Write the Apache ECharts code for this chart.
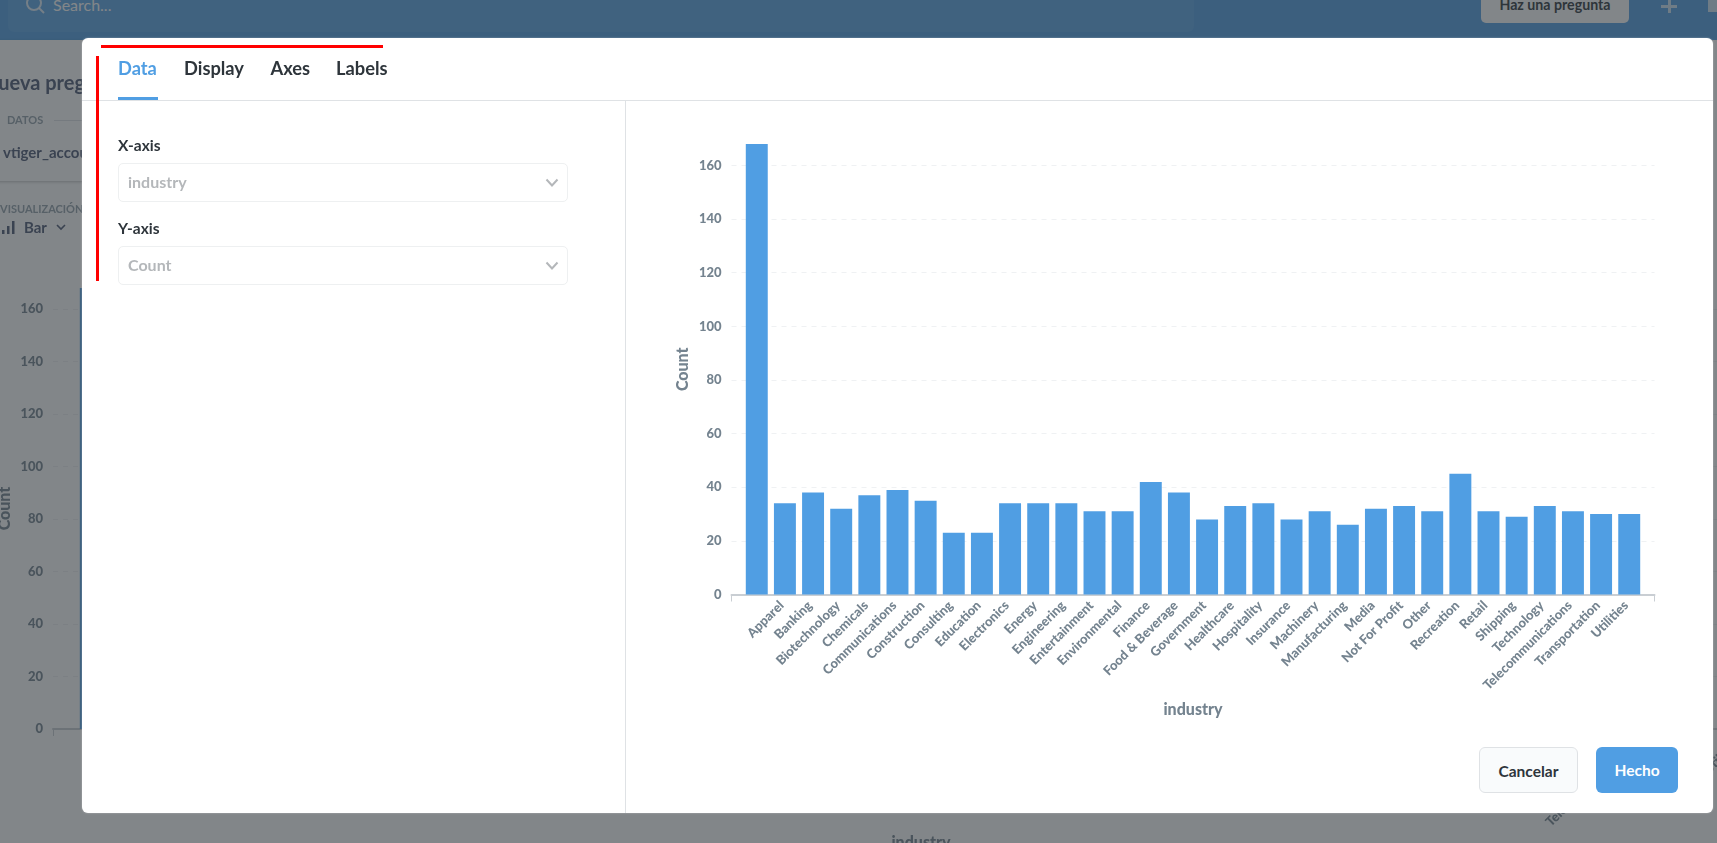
<!DOCTYPE html>
<html>
<head>
<meta charset="utf-8">
<title>Bar chart settings</title>
<script src="https://cdn.jsdelivr.net/npm/echarts@6/dist/echarts.min.js"></script>
<style>
  html, body { margin: 0; padding: 0; width: 1717px; height: 843px; overflow: hidden; background: #fff; font-family: Lato, sans-serif; font-weight: 700; color: #2e353b; }
  .abs { position: absolute; white-space: nowrap; }
  #page { position: absolute; left: 0; top: 0; width: 1717px; height: 843px; overflow: hidden; }
  #nav { left: 0; top: 0; width: 1717px; height: 40px; background: #509ee3; }
  #search { left: 8px; top: -10px; width: 1186px; height: 42px; background: #5aa5e6; border-radius: 6px; }
  #bgchart { position: absolute; left: 0; top: 0; width: 1850px; height: 843px; }
  #card { left: -10px; top: 40px; width: 200px; height: 141px; box-shadow: 0 1px 3px rgba(0,0,0,.25); }
  #overlay { left: 0; top: 0; width: 1717px; height: 843px; background: rgba(46,53,59,.6); }
  #modal { left: 82px; top: 38px; width: 1631px; height: 775px; background: #fff; border-radius: 6px; box-shadow: 0 0 2px rgba(255,255,255,.4); }
  #chart { position: absolute; left: 640px; top: 100px; width: 1072px; height: 640px; }
  .tab { top: 57px; font-size: 18.3px; line-height: 22px; }
  .lbl { left: 118px; font-size: 15.5px; line-height: 18px; }
  .sel { left: 118px; width: 448px; height: 37px; border: 1px solid #eef0f1; border-radius: 5px; }
  .sel span { position: absolute; left: 9px; top: 9px; font-size: 16px; line-height: 18px; color: #b4b7ba; }
  .sel svg { position: absolute; right: 8px; top: 14px; }
  .btn { top: 747px; height: 46px; line-height: 46px; text-align: center; font-size: 15.5px; border-radius: 6px; box-sizing: border-box; }
</style>
</head>
<body>
<div id="page">
  <div class="abs" id="nav"></div>
  <div class="abs" id="search"></div>
  <svg class="abs" style="left:24px;top:-4px" width="22" height="20" viewBox="0 0 22 20"><circle cx="10" cy="7" r="7" fill="none" stroke="#fff" stroke-opacity=".8" stroke-width="2"/><path d="M15 12l5 5" stroke="#fff" stroke-opacity=".8" stroke-width="2"/></svg>
  <div class="abs" style="left:53px;top:-4px;font-size:16px;line-height:18px;color:#fff;font-weight:400">Search...</div>
  <div class="abs" style="left:1481px;top:-13px;width:148px;height:36px;line-height:36px;background:#fff;border-radius:5px;text-align:center;font-size:14.2px">Haz una pregunta</div>
  <div class="abs" style="left:1668px;top:0;width:3px;height:13px;background:#d0e5f8"></div>
  <div class="abs" style="left:1661px;top:5px;width:16px;height:3px;background:#d0e5f8"></div>
  <div class="abs" style="left:1708px;top:0;width:9px;height:12px;background:#d0e5f8"></div>
  <div id="bgchart"></div>
  <div class="abs" id="card"></div>
  <div class="abs" style="left:-17px;top:70px;font-size:20px;line-height:24px;color:#4c5773">Nueva pregunta</div>
  <div class="abs" style="left:7px;top:112px;font-size:11px;line-height:16px;color:#93a1ab">DATOS</div>
  <div class="abs" style="left:54px;top:120px;width:30px;height:1px;background:#dfe2e5"></div>
  <div class="abs" style="left:3px;top:143px;font-size:15px;line-height:18px;color:#4c5773">vtiger_accounts</div>
  <div class="abs" style="left:0;top:201px;font-size:11px;line-height:16px;color:#93a1ab">VISUALIZACIÓN</div>
  <svg class="abs" style="left:2px;top:220px" width="14" height="14" viewBox="0 0 14 14"><path d="M0 10h2.5v4H0zM5 6h2.5v8H5zM10 1h2.5v13H10z" fill="#4c5773"/></svg>
  <div class="abs" style="left:24px;top:218px;font-size:15px;line-height:18px;color:#4c5773">Bar</div>
  <svg class="abs" style="left:56px;top:224px" width="10" height="7" viewBox="0 0 10 7"><path d="M1 1l4 4 4-4" fill="none" stroke="#4c5773" stroke-width="1.6"/></svg>
  <div class="abs" id="overlay"></div>

  <div class="abs" id="modal"></div>
  <div class="abs" style="left:82px;top:100px;width:1631px;height:1px;background:#dfe2e5"></div>
  <div class="abs" style="left:625px;top:100px;width:1px;height:713px;background:#dfe2e5"></div>
  <div id="chart"></div>
  <div class="abs" style="left:101px;top:45px;width:282px;height:3px;background:#f00"></div>
  <div class="abs" style="left:96px;top:56px;width:3px;height:225px;background:#f00"></div>
  <div class="abs tab" style="left:118px;color:#509ee3">Data</div>
  <div class="abs tab" style="left:184px">Display</div>
  <div class="abs tab" style="left:270.500px">Axes</div>
  <div class="abs tab" style="left:336px">Labels</div>
  <div class="abs" style="left:118px;top:97px;width:40px;height:3px;background:#509ee3"></div>
  <div class="abs lbl" style="top:136px">X-axis</div>
  <div class="abs sel" style="top:163px"><span>industry</span><svg width="14" height="10" viewBox="0 0 14 10"><path d="M1.5 1.5l5.5 6 5.500-6" fill="none" stroke="#b4b7ba" stroke-width="2"/></svg></div>
  <div class="abs lbl" style="top:219px">Y-axis</div>
  <div class="abs sel" style="top:246px"><span>Count</span><svg width="14" height="10" viewBox="0 0 14 10"><path d="M1.5 1.5l5.500 6 5.500-6" fill="none" stroke="#b4b7ba" stroke-width="2"/></svg></div>
  <div class="abs btn" style="left:1479px;width:99px;background:#f9fbfc;border:1px solid #dfe2e5">Cancelar</div>
  <div class="abs btn" style="left:1596px;width:82px;background:#509ee3;color:#fff">Hecho</div>
</div>
<script>
var categories = ['', 'Apparel', 'Banking', 'Biotechnology', 'Chemicals', 'Communications', 'Construction', 'Consulting',
    'Education', 'Electronics', 'Energy', 'Engineering', 'Entertainment', 'Environmental', 'Finance', 'Food & Beverage',
    'Government', 'Healthcare', 'Hospitality', 'Insurance', 'Machinery', 'Manufacturing', 'Media', 'Not For Profit',
    'Other', 'Recreation', 'Retail', 'Shipping', 'Technology', 'Telecommunications', 'Transportation', 'Utilities'];
var counts = [168, 34, 38, 32, 37, 39, 35, 23, 23, 34, 34, 34, 31, 31, 42, 38, 28, 33, 34, 28, 31, 26, 32, 33, 31, 45,
    31, 29, 33, 31, 30, 30];
var xName = 'industry';
var yName = 'Count';

var textColor = '#74838f';

// outer grid carries the axis line and y labels, inner grid is inset so the bars sit off the axis ends
function buildOption(g) {
    var font = {fontFamily: 'Lato', fontWeight: 900, color: textColor};
    return {
        animation: false,
        grid: [
            {left: g.left, top: g.top, width: g.width, height: g.height, outerBoundsMode: 'none'},
            {left: g.left + g.pad, top: g.top, width: g.width - 2 * g.pad, height: g.height, outerBoundsMode: 'none'}
        ],
        xAxis: [{
            gridIndex: 0, type: 'value', min: 0, max: 1, interval: 1,
            name: xName, nameLocation: 'middle', nameGap: g.xGap,
            nameTextStyle: Object.assign({fontSize: 16}, font),
            axisLine: {show: true, lineStyle: {color: '#c9ced3', width: 2}},
            axisTick: {show: true, length: 7, lineStyle: {color: '#c9ced3', width: 1}},
            axisLabel: {show: false},
            splitLine: {show: false}
        }, {
            gridIndex: 1, type: 'category', data: categories,
            axisLine: {show: false},
            axisTick: {show: false},
            axisLabel: Object.assign({interval: 0, rotate: 45, verticalAlign: 'bottom', lineHeight: 9, margin: g.labelMargin, fontSize: 13}, font)
        }],
        yAxis: [{
            gridIndex: 0, type: 'value', min: 0, max: 168, interval: 20,
            name: yName, nameLocation: 'middle', nameGap: g.yGap, nameMoveOverlap: false,
            nameTextStyle: Object.assign({fontSize: 16}, font),
            axisLine: {show: false},
            axisTick: {show: false},
            axisLabel: Object.assign({margin: 10, fontSize: 13, showMaxLabel: false}, font),
            splitLine: {showMaxLine: false, lineStyle: {color: '#eff1f3', type: [5, 5]}}
        }, {
            gridIndex: 1, type: 'value', min: 0, max: 168, show: false
        }],
        series: [{
            type: 'bar',
            xAxisIndex: 1,
            yAxisIndex: 1,
            data: counts,
            barCategoryGap: '22%',
            itemStyle: {color: '#509ee3'}
        }]
    };
}

var chart = echarts.init(document.getElementById('chart'));
chart.setOption(buildOption({left: 91.500, top: 44, width: 923, height: 450.5, pad: 11.200, xGap: 107, yGap: 41, labelMargin: 12}));

var bgChart = echarts.init(document.getElementById('bgchart'));
bgChart.setOption(buildOption({left: 53, top: 288, width: 1736, height: 441, pad: 21, xGap: 106, yGap: 40, labelMargin: 14}));
</script>
</body>
</html>
